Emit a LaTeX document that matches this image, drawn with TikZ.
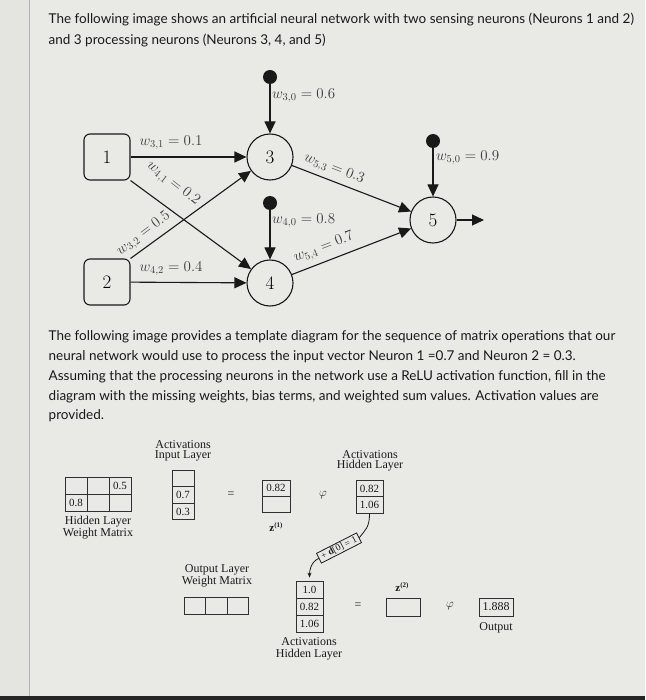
\RequirePackage{fix-cm}
\documentclass[tikz,border=0pt]{standalone}
\usepackage{fontspec}
\newfontfamily\lato{Lato}
\newfontfamily\tms{Liberation Serif}
\usetikzlibrary{arrows.meta}
\definecolor{bg}{RGB}{233,233,229}
\definecolor{strip}{RGB}{228,228,224}
\definecolor{ink}{RGB}{25,25,25}
\tikzset{
  neuron/.style={circle,draw=ink,line width=1.1pt,minimum size=46pt,inner sep=0pt,font=\fontsize{19}{19}\selectfont},
  sensor/.style={rectangle,rounded corners=6pt,draw=ink,line width=1.1pt,minimum size=46pt,inner sep=0pt,font=\fontsize{19}{19}\selectfont},
  bias/.style={circle,fill=ink,minimum size=14pt,inner sep=0pt},
  syn/.style={draw=ink,line width=1.1pt,-{Triangle[length=12pt,width=11pt]}},
  wlab/.style={font=\fontsize{15}{15}\selectfont,inner sep=1pt,text=ink!85},
  body/.style={anchor=base west,inner sep=0pt,font=\lato\fontsize{13.5}{15}\selectfont,text=ink},
  capt/.style={align=center,inner sep=0pt,font=\tms\fontsize{12}{12}\selectfont,text=ink},
  capa/.style={align=center,inner sep=0pt,font=\tms\fontsize{12}{10}\selectfont,text=ink},
  cell/.style={draw=ink!90,line width=0.8pt,minimum width=22pt,minimum height=17pt,inner sep=0pt,font=\tms\fontsize{11}{11}\selectfont,text=ink},
  sym/.style={inner sep=0pt,font=\tms\fontsize{12}{12}\selectfont,text=ink},
}
\begin{document}
\begin{tikzpicture}[x=1pt,y=-1pt]
\useasboundingbox (0,0) rectangle (645,700);
\fill[bg] (0,0) rectangle (645,700);
\fill[strip] (0,0) rectangle (29,696);
\draw[gray!60,line width=1pt] (29.5,0) -- (29.5,696);
\fill[black!85] (0,696) rectangle (645,700);

% top text
\node[body] (t1) at (48.5,24) {The following image shows an artificial neural network with two sensing neurons (Neurons 1 and 2)};
\node[body] (t2) at (48.5,45) {and 3 processing neurons (Neurons 3, 4, and 5)};

% network
\node[sensor] (n1) at (107,157) {1};
\node[sensor] (n2) at (107,282) {2};
\node[neuron] (n3) at (270,157) {3};
\node[neuron] (n4) at (270,283) {4};
\node[neuron] (n5) at (433,220) {5};
\node[bias] (b3) at (270,77) {};
\node[bias] (b4) at (270,203) {};
\node[bias] (b5) at (433,141) {};
\coordinate (o5) at (484,220);

\draw[syn] (b3) -- (n3);
\draw[syn] (b4) -- (n4);
\draw[syn] (b5) -- (n5);
\draw[syn] (n1) -- (n3);
\draw[syn] (n1.south east) -- (n4);
\draw[syn] (n2.north east) -- (n3);
\draw[syn] (n2) -- (n4);
\draw[syn] (n3) -- (n5);
\draw[syn] (n4) -- (n5);
\draw[syn] (n5) -- (o5);

\node[wlab,anchor=west] (l30) at (271,96) {$w_{3,0}=0.6$};
\node[wlab] (l31) at (171,143) {$w_{3,1}=0.1$};
\node[wlab,rotate=-38] (l41) at (173,184) {$w_{4,1}=0.2$};
\node[wlab,rotate=37] (l32) at (144,234) {$w_{3,2}=0.5$};
\node[wlab] (l42) at (171,269) {$w_{4,2}=0.4$};
\node[wlab,anchor=west] (l40) at (271,221) {$w_{4,0}=0.8$};
\node[wlab,rotate=-21] (l53) at (334,169) {$w_{5,3}=0.3$};
\node[wlab,rotate=21] (l54) at (324,248) {$w_{5,4}=0.7$};
\node[wlab,anchor=west] (l50) at (435,158) {$w_{5,0}=0.9$};

% second paragraph
\node[body] (p1) at (48.5,340) {The following image provides a template diagram for the sequence of matrix operations that our};
\node[body] (p2) at (48.5,360) {neural network would use to process the input vector Neuron 1 =0.7 and Neuron 2 = 0.3.};
\node[body] (p3) at (48.5,380) {Assuming that the processing neurons in the network use a ReLU activation function, fill in the};
\node[body] (p4) at (48.5,400) {diagram with the missing weights, bias terms, and weighted sum values. Activation values are};
\node[body] (p5) at (48.5,419) {provided.};

% matrix template
\node[capa] (cin) at (183,451) {Activations\\Input Layer};
\node[cell] (w11) at (76,485.5) {};
\node[cell] (w12) at (98,485.5) {};
\node[cell] (w13) at (120,485.5) {0.5};
\node[cell] (w21) at (76,502.5) {0.8};
\node[cell] (w22) at (98,502.5) {};
\node[cell] (w23) at (120,502.5) {};
\node[capt] (cw1) at (98,528) {Hidden Layer\\Weight Matrix};

\node[cell,minimum height=16.5pt] (x0) at (183,478.5) {};
\node[cell,minimum height=16.5pt] (x1) at (183,495) {0.7};
\node[cell,minimum height=16.5pt] (x2) at (183,511.5) {0.3};

\node[sym] (eq1) at (231,495) {=};
\node[cell,minimum width=28pt,minimum height=16pt] (z11) at (276,488) {0.82};
\node[cell,minimum width=28pt,minimum height=16pt] (z12) at (276,504) {};
\node[sym,font=\tms\bfseries\fontsize{11}{11}\selectfont] (z1l) at (276,527) {z\raisebox{3.5pt}{\fontsize{7}{7}\selectfont(1)}};
\node[sym] (ph1) at (323,495) {$\varphi$};

\node[capa] (cha) at (370,461) {Activations\\Hidden Layer};
\node[cell,minimum width=27pt,minimum height=16.5pt] (h1) at (369.5,488.5) {0.82};
\node[cell,minimum width=27pt,minimum height=16.5pt] (h2) at (369.5,505) {1.06};

\node[draw=ink,line width=0.8pt,rotate=27,inner xsep=3pt,inner ysep=1.5pt,font=\tms\fontsize{9.5}{9.5}\selectfont,text=ink] (dbox) at (339,548) {+ \textbf{d}[0] = 1};

\node[capt] (cwo) at (217,576) {Output Layer\\Weight Matrix};
\node[cell,minimum width=21.7pt] (o1) at (195,605.5) {};
\node[cell,minimum width=21.7pt] (o2) at (216.5,605.5) {};
\node[cell,minimum width=21.7pt] (o3) at (238,605.5) {};

\node[cell,minimum width=27pt] (hb1) at (309.5,589.5) {1.0};
\node[cell,minimum width=27pt] (hb2) at (309.5,606.5) {0.82};
\node[cell,minimum width=27pt] (hb3) at (309.5,623.5) {1.06};
\node[capt] (chb) at (309,649) {Activations\\Hidden Layer};

\draw[ink,line width=0.8pt] (h2.south) .. controls +(0,14) and +(6,-8) .. (dbox.east);
\draw[ink,line width=0.8pt,-{Stealth[length=5pt,width=4pt]},shorten >=3pt] (dbox.west) .. controls +(-8,4) and +(0,-10) .. (hb1.north);

\node[sym] (eq2) at (358,606) {=};
\node[sym,font=\tms\bfseries\fontsize{11}{11}\selectfont] (z2l) at (402,587) {z\raisebox{3.5pt}{\fontsize{7}{7}\selectfont(2)}};
\node[cell,minimum width=34pt,minimum height=18pt] (z2) at (403,607) {};
\node[sym] (ph2) at (450,606) {$\varphi$};
\node[cell,minimum width=34pt,minimum height=18pt,font=\tms\fontsize{12}{12}\selectfont] (out) at (496,607) {1.888};
\node[capt] (cout) at (496,628) {Output};
\end{tikzpicture}
\end{document}
